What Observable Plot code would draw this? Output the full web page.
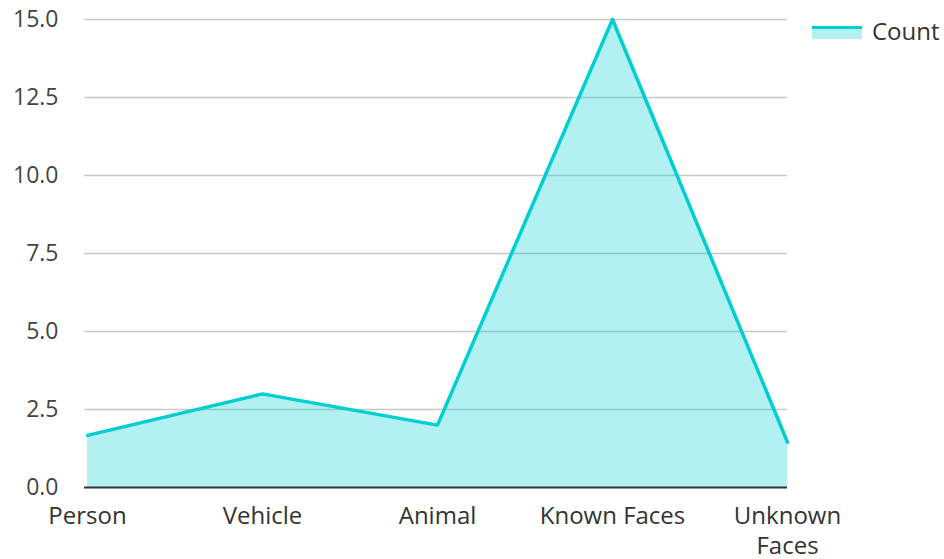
<!DOCTYPE html>
<html>
<head>
<meta charset="utf-8">
<script src="https://cdn.jsdelivr.net/npm/d3@7"></script>
<script src="https://cdn.jsdelivr.net/npm/@observablehq/plot@0.6"></script>
<style>
  html, body { margin: 0; padding: 0; background: #fff; }
  #wrap { position: relative; width: 944px; height: 559px; font-family: "Open Sans", sans-serif; }
  #legend { position: absolute; left: 812px; top: 14px; display: flex; align-items: center; font-size: 24px; color: #333; }
  #legend .sw { width: 50px; height: 13px; background: rgba(0,206,209,0.3); border-top: 3px solid #00ced1; box-sizing: border-box; margin-right: 10px; margin-top: 4px; }
</style>
</head>
<body>
<div id="wrap"><div id="legend"><div class="sw"></div><span>Count</span></div></div>
<script>
const categories = ["Person", "Vehicle", "Animal", "Known Faces", "Unknown Faces"];
const tickLabels = ["Person", "Vehicle", "Animal", "Known Faces", "Unknown\nFaces"];
const counts = [1.67, 3, 2, 15, 1.45];
const yTicks = [0, 2.5, 5, 7.5, 10, 12.5, 15];

const data = categories.map((c, i) => ({category: c, count: counts[i]}));
const labelOf = new Map(categories.map((c, i) => [c, tickLabels[i]]));

const chart = Plot.plot({
  width: 944,
  height: 559,
  marginLeft: 86,
  marginRight: 157,
  marginTop: 19,
  marginBottom: 72,
  style: {fontFamily: "Open Sans", fontSize: "23px", color: "#444", background: "transparent"},
  x: {type: "point", domain: categories, padding: 0},
  y: {domain: [0, 15]},
  marks: [
    Plot.ruleY(yTicks.filter(d => d > 0), {stroke: "#c8c8c8", strokeWidth: 1.5, insetLeft: -2}),
    Plot.areaY(data, {x: "category", y: "count", fill: "#00ced1", fillOpacity: 0.3}),
    Plot.lineY(data, {x: "category", y: "count", stroke: "#00ced1", strokeWidth: 3.5}),
    Plot.ruleY([0], {stroke: "#333", strokeWidth: 2, insetLeft: -2}),
    Plot.axisY({ticks: yTicks, tickSize: 0, tickPadding: 28, tickFormat: d => d.toFixed(1), label: null, fill: "#444"}),
    Plot.axisX({tickSize: 0, tickPadding: 15, tickFormat: d => labelOf.get(d), label: null, fontSize: 24, lineHeight: 1.25, fill: "#333"})
  ]
});
chart.style.position = "absolute";
chart.style.left = "0";
chart.style.top = "0";
document.getElementById("wrap").prepend(chart);
</script>
</body>
</html>
